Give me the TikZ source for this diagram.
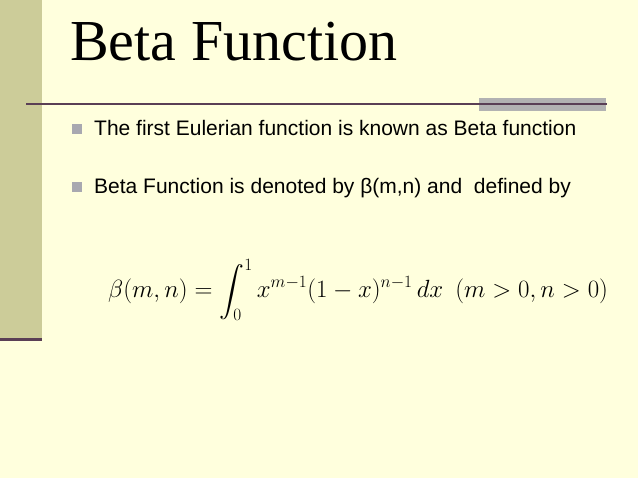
\documentclass[tikz,border=0pt]{standalone}
\usepackage{fontspec}
\usepackage{amsmath}
\setmainfont{Liberation Serif}
\newfontfamily\arial{Liberation Sans}
\definecolor{bg}{HTML}{FFFFDD}
\definecolor{side}{HTML}{CCCC99}
\definecolor{rule}{HTML}{5A3F55}
\definecolor{gbar}{HTML}{B2B2B2}
\definecolor{bul}{HTML}{A8A8B0}
\begin{document}
\begin{tikzpicture}[x=1pt,y=-1pt,
  bullettext/.style={anchor=base west,inner sep=0,font=\arial\fontsize{21}{24}\selectfont},
  bulletsq/.style={fill=bul,minimum size=10pt,inner sep=0}]
\fill[bg] (0,0) rectangle (638,478);
\useasboundingbox (0,0) rectangle (638,478);
\fill[side] (0,0) rectangle (42,339);
\fill[rule] (0,338.5) rectangle (42,341.5);
\fill[gbar] (479,98) rectangle (606,111);
\draw[rule,line width=2.2pt] (26,104) -- (607,104);
\node[anchor=base west,inner sep=0,font=\fontsize{58}{62}\selectfont] (title) at (70,61) {Beta Function};
\node[bulletsq] (b1) at (77,129) {};
\node[bullettext] (t1) at (94,136) {The first Eulerian function is known as Beta function};
\node[bulletsq] (b2) at (77,187) {};
\node[bullettext] (t2) at (94,194) {Beta Function is denoted by β(m,n) and\ \ defined by};
\node[anchor=base west,inner sep=0,font=\fontsize{24}{28}\selectfont] (eq) at (108,298)
 {$\beta(m,n)=\displaystyle\int_0^1 x^{m-1}(1-x)^{n-1}\,dx\ \ (m>0,n>0)$};
\end{tikzpicture}
\end{document}
